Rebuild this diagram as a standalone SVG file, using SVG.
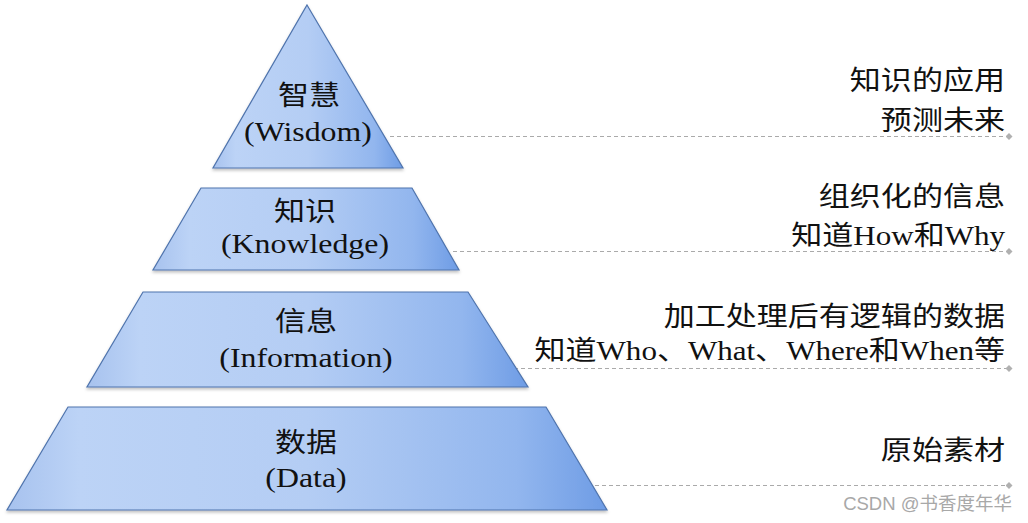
<svg xmlns="http://www.w3.org/2000/svg" width="1028" height="523" viewBox="0 0 1028 523">
<style>
.shape{stroke:#4f74ad;stroke-width:1.2;fill:url(#g);filter:url(#sh)}
.lbl{font-family:"Liberation Serif","Noto Sans CJK SC",serif;font-size:27px;fill:#111;text-anchor:middle}
.rt{font-family:"Liberation Serif","Noto Sans CJK SC",serif;font-size:27px;fill:#111;text-anchor:end}
.dash{stroke:#aaaaaa;stroke-width:1;stroke-dasharray:4 3;fill:none;marker-end:url(#dm)}
.wm{font-family:"Liberation Sans","Noto Sans CJK SC",sans-serif;font-size:18.5px;fill:#a8a8a8;text-anchor:end}
</style>
<defs>
<linearGradient id="g" x1="0" y1="0" x2="1" y2="0">
<stop offset="0" stop-color="#a7c2ee"/>
<stop offset="0.12" stop-color="#bcd3f6"/>
<stop offset="0.5" stop-color="#b4cdf4"/>
<stop offset="0.85" stop-color="#92b6ee"/>
<stop offset="1" stop-color="#6e9ce5"/>
</linearGradient>
<filter id="sh" x="-5%" y="-5%" width="110%" height="115%">
<feDropShadow dx="0" dy="2" stdDeviation="1.5" flood-color="#000" flood-opacity="0.25"/>
</filter>
<marker id="dm" viewBox="0 0 8 8" refX="4" refY="4" markerWidth="7" markerHeight="7" markerUnits="userSpaceOnUse">
<path d="M4 0 L8 4 L4 8 L0 4 Z" fill="#b0b0b0"/>
</marker>
</defs>
<g id="connectors">
<line class="dash" x1="390" y1="136.5" x2="1009" y2="136.5"/>
<line class="dash" x1="453" y1="251.5" x2="1009" y2="251.5"/>
<line class="dash" x1="507" y1="368.5" x2="1009" y2="368.5"/>
<line class="dash" x1="560" y1="485.5" x2="1009" y2="485.5"/>
</g>
<g id="wisdom">
<path class="shape" d="M307 5 L403 168 L213 168 Z"/>
<text class="lbl" transform="translate(309,105) scale(1.15,1)">智慧</text>
<text class="lbl" transform="translate(308,141) scale(1.18,1)">(Wisdom)</text>
</g>
<g id="knowledge">
<path class="shape" d="M201 188 L412 188 L459 270 L153 270 Z"/>
<text class="lbl" transform="translate(305,221) scale(1.15,1)">知识</text>
<text class="lbl" transform="translate(305,253) scale(1.18,1)">(Knowledge)</text>
</g>
<g id="information">
<path class="shape" d="M143 292 L468 292 L528 387 L87 387 Z"/>
<text class="lbl" transform="translate(306,331) scale(1.15,1)">信息</text>
<text class="lbl" transform="translate(306,367) scale(1.18,1)">(Information)</text>
</g>
<g id="data">
<path class="shape" d="M68 407 L546 407 L607 510 L7 510 Z"/>
<text class="lbl" transform="translate(306,452) scale(1.15,1)">数据</text>
<text class="lbl" transform="translate(306,487) scale(1.18,1)">(Data)</text>
</g>
<g id="desc-wisdom">
<text class="rt" transform="translate(1005,90) scale(1.15,1)">知识的应用</text>
<text class="rt" transform="translate(1005,130) scale(1.15,1)">预测未来</text>
</g>
<g id="desc-knowledge">
<text class="rt" transform="translate(1005,206) scale(1.15,1)">组织化的信息</text>
<text class="rt" transform="translate(1005,245) scale(1.15,1)">知道How和Why</text>
</g>
<g id="desc-information">
<text class="rt" transform="translate(1005,326) scale(1.15,1)">加工处理后有逻辑的数据</text>
<text class="rt" transform="translate(1005,360) scale(1.15,1)">知道Who、What、Where和When等</text>
</g>
<g id="desc-data">
<text class="rt" transform="translate(1005,460) scale(1.15,1)">原始素材</text>
</g>
<text class="wm" x="1012" y="510">CSDN @书香度年华</text>
</svg>
